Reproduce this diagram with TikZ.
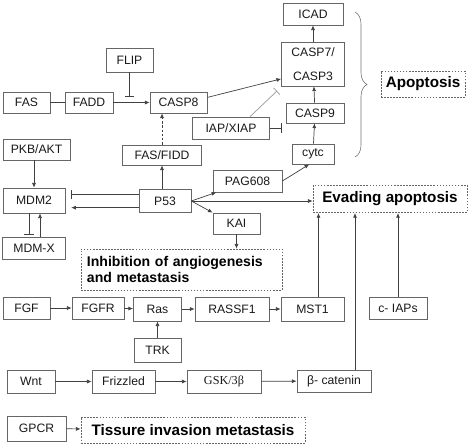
\documentclass[tikz,border=0pt]{standalone}
\usepackage{fontspec}
\setmainfont{Liberation Sans}
\newfontfamily\serifgreek{Liberation Serif}
\usetikzlibrary{arrows.meta,decorations.pathreplacing}
\begin{document}
\begin{tikzpicture}[x=0.03cm, y=-0.03cm, line width=0.6pt, draw=black!75,
		>={Latex[length=4pt,width=3.4pt]},
		box/.style={draw=black!60, inner sep=1pt, text=black!90, font=\fontsize{10.4}{12}\selectfont},
		dbox/.style={draw=black!60, dash pattern=on 1.4pt off 1.2pt, inner sep=1pt, text=black, font=\fontsize{13}{15}\selectfont\bfseries},
		inh/.style={-{Bar[width=8pt]}}]
	\useasboundingbox (0,0) rectangle (474,445);
	% extrinsic branch
	\node[box, minimum width=1.41cm, minimum height=0.63cm] (fas) at (26.5,102.5) {FAS};
	\node[box, minimum width=1.44cm, minimum height=0.63cm] (fadd) at (89,102.5) {FADD};
	\node[box, minimum width=1.41cm, minimum height=0.72cm] (flip) at (129.5,60) {FLIP};
	\node[box, minimum width=1.71cm, minimum height=0.63cm] (casp8) at (178.5,102.5) {CASP8};
	\node[box, minimum width=2.37cm, minimum height=0.6cm] (fasfidd) at (162,155) {FAS/FIDD};
	% caspase column
	\node[box, minimum width=1.8cm, minimum height=0.66cm] (icad) at (313,14) {ICAD};
	\node[box, minimum width=1.89cm, minimum height=1.32cm, align=center, font=\fontsize{10.4}{20}\selectfont] (casp73) at (313,64) {CASP7/\\CASP3};
	\node[box, minimum width=1.74cm, minimum height=0.6cm] (casp9) at (315,113) {CASP9};
	\node[box, minimum width=2.31cm, minimum height=0.66cm] (iap) at (231,128) {IAP/XIAP};
	\node[box, minimum width=1.26cm, minimum height=0.6cm] (cytc) at (313,154) {cytc};
	\node[box, minimum width=2.07cm, minimum height=0.66cm] (pag) at (247.5,181) {PAG608};
	\node[dbox, minimum width=2.52cm, minimum height=0.78cm] (apop) at (423,84) {Apoptosis};
	% p53 and mdm
	\node[box, minimum width=2.01cm, minimum height=0.63cm] (pkb) at (36.5,149.5) {PKB/AKT};
	\node[box, minimum width=1.86cm, minimum height=0.75cm] (mdm2) at (34,200.5) {MDM2};
	\node[box, minimum width=1.89cm, minimum height=0.66cm] (mdmx) at (34,248.5) {MDM-X};
	\node[box, minimum width=1.56cm, minimum height=0.69cm] (p53) at (165,201) {P53};
	\node[box, minimum width=1.41cm, minimum height=0.63cm] (kai) at (236.5,223.5) {KAI};
	\node[dbox, minimum width=4.62cm, minimum height=0.82cm] (evading) at (390,199) {Evading apoptosis};
	\node[dbox, minimum width=6.03cm, minimum height=1.23cm, text width=5.67cm, inner xsep=0.18cm, align=left, font=\fontsize{12}{13.6}\selectfont\bfseries] (inhib) at (181.5,269.5) {Inhibition of angiogenesis\\and metastasis};
	% growth factor row
	\node[box, minimum width=1.41cm, minimum height=0.66cm] (fgf) at (26.5,308) {FGF};
	\node[box, minimum width=1.56cm, minimum height=0.66cm] (fgfr) at (98,308) {FGFR};
	\node[box, minimum width=1.44cm, minimum height=0.72cm] (ras) at (157.5,309) {Ras};
	\node[box, minimum width=2.22cm, minimum height=0.72cm] (rassf) at (232,309) {RASSF1};
	\node[box, minimum width=1.89cm, minimum height=0.72cm] (mst1) at (312.5,309) {MST1};
	\node[box, minimum width=1.74cm, minimum height=0.66cm] (ciaps) at (398,308) {c- IAPs};
	\node[box, minimum width=1.41cm, minimum height=0.72cm] (trk) at (157.5,350) {TRK};
	% wnt row
	\node[box, minimum width=1.44cm, minimum height=0.69cm] (wnt) at (31,381.5) {Wnt};
	\node[box, minimum width=1.89cm, minimum height=0.69cm] (friz) at (123.5,381.5) {Frizzled};
	\node[box, minimum width=2.22cm, minimum height=0.69cm] (gsk) at (224,381.5) {\serifgreek GSK/3β};
	\node[box, minimum width=2.22cm, minimum height=0.66cm] (bcat) at (334,381) {β- catenin};
	\node[box, minimum width=1.77cm, minimum height=0.75cm] (gpcr) at (36.5,428.5) {GPCR};
	\node[dbox, minimum width=6.72cm, minimum height=0.78cm] (tissue) at (193,430) {Tissure invasion metastasis};
	% free ends
	\coordinate (flipend) at (129.5,97);
	\coordinate (iapend) at (277,91);
	\coordinate (mstup) at (318.5,297);
	\coordinate (bcatup) at (355,370);
	% connectors
	\draw (fas) -- (fadd);
	\draw[->] (fadd) -- (casp8);
	\draw[inh] (flip) -- (flipend);
	\draw[->] (casp8.10) -- (casp73.205);
	\draw[->, dash pattern=on 2pt off 1.6pt] (fasfidd.north) -- (fasfidd.north |- casp8.south);
	\draw[->] (p53.north -| fasfidd.south) -- (fasfidd.south);
	\draw[->] (cytc) -- (casp9);
	\draw[->] (casp9) -- (casp73);
	\draw[->] (casp73) -- (icad);
	\draw[inh, shorten >=3.5pt] (iap.east) -- (iap.east -| casp9.west);
	\draw[inh, draw=black!40] ([xshift=0.57cm]iap.north) -- (iapend);
	\draw[->] (pag.east) -- (cytc.250);
	\draw[->] (pkb.south -| mdm2) -- (mdm2.north);
	\draw[inh, shorten >=5pt] ([yshift=0.2cm]p53.west) -- ([yshift=0.2cm]p53.west -| mdm2.east);
	\draw[->, shorten >=5pt] ([yshift=-0.2cm]p53.west) -- ([yshift=-0.2cm]p53.west -| mdm2.east);
	\draw[inh, shorten >=2.5pt] ([xshift=-0.15cm]mdm2.south) -- ([xshift=-0.15cm]mdmx.north);
	\draw[->] ([xshift=0.18cm]mdmx.north) -- ([xshift=0.18cm]mdm2.south);
	\draw[->] (p53.east) -- (pag.200);
	\draw[->] (p53.east) -- (p53.east -| evading.west);
	\draw[->] (p53.east) -- (kai.north west);
	\draw[->] (kai) -- (kai |- inhib.north);
	\draw[->] (fgf) -- (fgfr);
	\draw[->] (fgfr) -- (ras);
	\draw[->] (ras) -- (rassf);
	\draw[->] (rassf) -- (mst1);
	\draw[->] (trk) -- (ras);
	\draw[->] (mstup) -- (mstup |- evading.south);
	\draw[->] (bcatup) -- (bcatup |- evading.south);
	\draw[->] (ciaps) -- (ciaps |- evading.south);
	\draw[->] (wnt) -- (friz);
	\draw[->] (friz) -- (gsk);
	\draw[->] (gsk) -- (bcat);
	\draw[->] (gpcr) -- (tissue);
	% brace
	\draw[draw=black!55, line width=0.5pt, decorate, decoration={brace, amplitude=0.36cm}] (355,12) -- (355,157);
\end{tikzpicture}
\end{document}
